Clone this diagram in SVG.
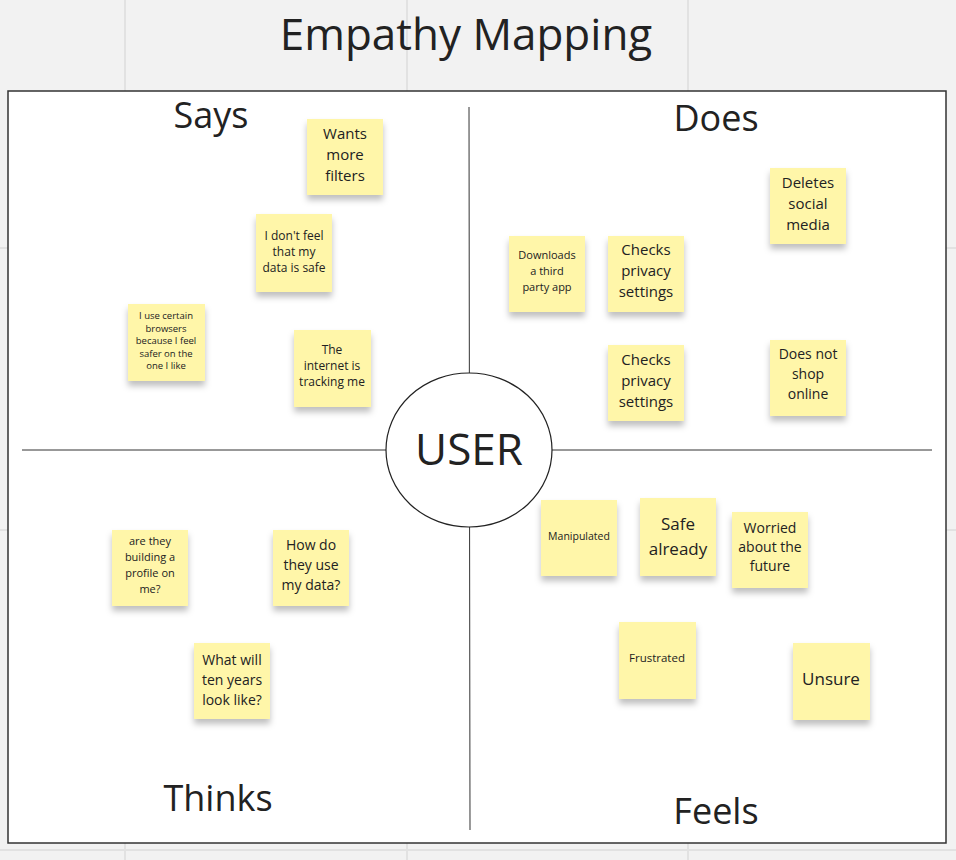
<svg xmlns="http://www.w3.org/2000/svg" width="956" height="860" viewBox="0 0 956 860">
<defs>
<filter id="sh" x="-20%" y="-20%" width="140%" height="150%"><feDropShadow dx="0" dy="5" stdDeviation="3" flood-color="#000" flood-opacity="0.25"/></filter>
</defs>
<style>
text{font-family:"Open Sans","Noto Sans",sans-serif;fill:#222;text-anchor:middle}
.n{fill:#fff6a9;filter:url(#sh)}
.h{font-size:36px}
.grid{stroke:#e2e2e2;stroke-width:2}
</style>
<rect width="956" height="860" fill="#f2f2f2"/>
<g class="grid"><line x1="125" y1="0" x2="125" y2="860"/><line x1="407" y1="0" x2="407" y2="860"/><line x1="688" y1="0" x2="688" y2="860"/><line x1="0" y1="248" x2="956" y2="248"/><line x1="0" y1="530" x2="956" y2="530"/><line x1="0" y1="850" x2="956" y2="850"/></g>
<text x="466" y="50" font-size="44">Empathy Mapping</text>
<rect x="8" y="91" width="938" height="752" fill="#fff" stroke="#333" stroke-width="1.5"/>
<g id="connectors" stroke="#333" stroke-width="1"><line x1="22" y1="450" x2="932" y2="450"/><line x1="469" y1="107" x2="470" y2="830"/></g>
<text class="h" x="211" y="128">Says</text><text class="h" x="716" y="131">Does</text><text class="h" x="218" y="811">Thinks</text><text class="h" x="716" y="824">Feels</text>
<g id="user"><ellipse cx="469" cy="450" rx="83" ry="77" fill="#fff" stroke="#222" stroke-width="1.2"/><text x="469" y="465" font-size="44">USER</text></g>
<g id="n1"><rect class="n" x="307" y="119" width="76" height="76"/><text font-size="15" x="345" y="139">Wants<tspan x="345" dy="21">more</tspan><tspan x="345" dy="21">filters</tspan></text></g>
<g id="n2"><rect class="n" x="256" y="214" width="76" height="78"/><text font-size="12" x="294" y="240">I don't feel<tspan x="294" dy="16">that my</tspan><tspan x="294" dy="16">data is safe</tspan></text></g>
<g id="n3"><rect class="n" x="128" y="304" width="77" height="77"/><text font-size="9.5" x="166" y="319">I use certain<tspan x="166" dy="12.5">browsers</tspan><tspan x="166" dy="12.5">because I feel</tspan><tspan x="166" dy="12.5">safer on the</tspan><tspan x="166" dy="12.5">one I like</tspan></text></g>
<g id="n4"><rect class="n" x="294" y="330" width="77" height="77"/><text font-size="12" x="332" y="354">The<tspan x="332" dy="16">internet is</tspan><tspan x="332" dy="16">tracking me</tspan></text></g>
<g id="n5"><rect class="n" x="509" y="236" width="76" height="76"/><text font-size="11" x="547" y="259">Downloads<tspan x="547" dy="16">a third</tspan><tspan x="547" dy="16">party app</tspan></text></g>
<g id="n6"><rect class="n" x="608" y="236" width="76" height="76"/><text font-size="15" x="646" y="255">Checks<tspan x="646" dy="21">privacy</tspan><tspan x="646" dy="21">settings</tspan></text></g>
<g id="n7"><rect class="n" x="770" y="168" width="76" height="76"/><text font-size="15" x="808" y="188">Deletes<tspan x="808" dy="21">social</tspan><tspan x="808" dy="21">media</tspan></text></g>
<g id="n8"><rect class="n" x="608" y="345" width="76" height="76"/><text font-size="15" x="646" y="365">Checks<tspan x="646" dy="21">privacy</tspan><tspan x="646" dy="21">settings</tspan></text></g>
<g id="n9"><rect class="n" x="770" y="340" width="76" height="76"/><text font-size="14" x="808" y="359">Does not<tspan x="808" dy="20">shop</tspan><tspan x="808" dy="20">online</tspan></text></g>
<g id="n10"><rect class="n" x="541" y="500" width="76" height="76"/><text font-size="10.5" x="579" y="540">Manipulated</text></g>
<g id="n11"><rect class="n" x="640" y="498" width="76" height="78"/><text font-size="17" x="678" y="530">Safe<tspan x="678" dy="25">already</tspan></text></g>
<g id="n12"><rect class="n" x="732" y="512" width="76" height="76"/><text font-size="14" x="770" y="533">Worried<tspan x="770" dy="19">about the</tspan><tspan x="770" dy="19">future</tspan></text></g>
<g id="n13"><rect class="n" x="619" y="622" width="77" height="77"/><text font-size="11.5" x="657" y="662">Frustrated</text></g>
<g id="n14"><rect class="n" x="793" y="643" width="77" height="77"/><text font-size="17" x="831" y="685">Unsure</text></g>
<g id="n15"><rect class="n" x="112" y="530" width="76" height="76"/><text font-size="11" x="150" y="545">are they<tspan x="150" dy="16">building a</tspan><tspan x="150" dy="16">profile on</tspan><tspan x="150" dy="16">me?</tspan></text></g>
<g id="n16"><rect class="n" x="273" y="530" width="76" height="76"/><text font-size="14" x="311" y="550">How do<tspan x="311" dy="20">they use</tspan><tspan x="311" dy="20">my data?</tspan></text></g>
<g id="n17"><rect class="n" x="194" y="643" width="76" height="76"/><text font-size="14" x="232" y="665">What will<tspan x="232" dy="20">ten years</tspan><tspan x="232" dy="20">look like?</tspan></text></g>
</svg>
